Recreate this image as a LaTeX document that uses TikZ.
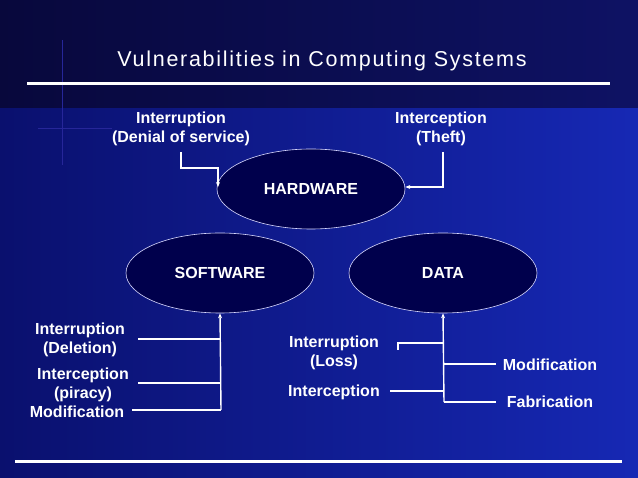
\documentclass[tikz,border=0pt]{standalone}
\usepackage{fontspec}
\setmainfont{Liberation Sans}
\begin{document}
\begin{tikzpicture}[x=1pt,y=-1pt,
  lbl/.style={text=white,font=\bfseries\fontsize{16}{19}\selectfont,align=center},
  ell/.style={draw=white!85!blue,line width=0.6pt,ellipse,fill=blue!30!black,minimum width=188pt,minimum height=80pt,text=white,font=\bfseries\fontsize{16}{19}\selectfont},
  wl/.style={draw=white,line width=1.4pt},
  arr/.style={wl,-{Stealth[length=5pt,width=4pt]}}]
\usetikzlibrary{shapes.geometric,arrows.meta}
\useasboundingbox (0,0) rectangle (638,478);
\shade[left color={rgb,255:red,10;green,16;blue,110},right color={rgb,255:red,22;green,40;blue,180}] (0,108) rectangle (638,478);
\shade[left color={rgb,255:red,8;green,8;blue,60},right color={rgb,255:red,14;green,18;blue,100}] (0,0) rectangle (638,108);
\draw[white!25!blue!60!black,line width=0.5pt] (62,40) -- (62,165) (38,128) -- (112,128);
\node[text=white,font=\fontsize{21.5}{25}\selectfont\addfontfeatures{LetterSpace=8}] (title) at (322,61) {Vulnerabilities in Computing Systems};
\draw[white,line width=3pt] (27,84) -- (610,84);
\draw[white,line width=3pt] (15,462) -- (622,462);
\node[ell] (hw) at (311,189) {HARDWARE};
\node[ell] (sw) at (220,273) {SOFTWARE};
\node[ell] (da) at (443,273) {DATA};
\node[lbl] (t1) at (181,129) {Interruption\\(Denial of service)};
\node[lbl] (t2) at (441,129) {Interception\\(Theft)};
\draw[arr] (181,152) -- (181,168) -- (218,168) -- (218,187);
\draw[arr] (443,152) -- (443,187) -- (hw.east |- 0,187);
\node[lbl] (s1) at (80,340) {Interruption\\(Deletion)};
\node[lbl] (s2) at (83,385) {Interception\\(piracy)};
\node[lbl] (s3) at (77,412) {Modification};
\coordinate (sb) at (221,410);
\draw[arr] (sb) -- (sw.south);
\draw[wl] (138,339) -- (221,339) (138,383) -- (221,383) (132,410) -- (221,410);
\node[lbl] (d1) at (334,353) {Interruption\\(Loss)};
\node[lbl] (d2) at (334,392) {Interception};
\node[lbl] (d3) at (550,365) {Modification};
\node[lbl] (d4) at (550,402) {Fabrication};
\coordinate (db) at (444,402);
\draw[arr] (db) -- (da.south);
\draw[wl] (398,350) -- (398,343) -- (444,343) (444,364) -- (496,364) (390,391) -- (444,391) (444,402) -- (496,402);
\end{tikzpicture}
\end{document}
